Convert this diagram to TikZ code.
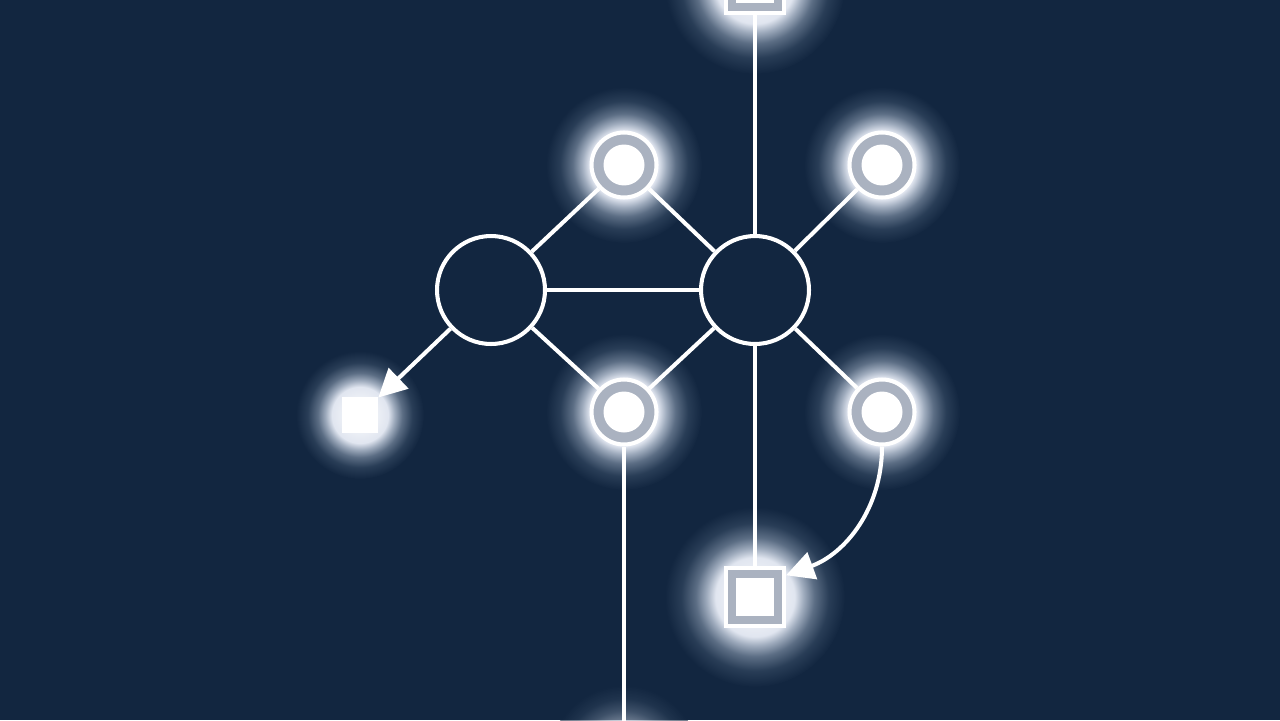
\documentclass[tikz,border=0pt]{standalone}
\usetikzlibrary{arrows.meta,calc}
\definecolor{bg}{RGB}{18,38,64}
\definecolor{ringgrey}{RGB}{170,178,192}
\pgfdeclareradialshading{glowshade}{\pgfpoint{0bp}{0bp}}{rgb(0bp)=(1,1,1); rgb(11bp)=(0.88,0.9,0.94); rgb(13.5bp)=(0.62,0.67,0.74); rgb(16.5bp)=(0.36,0.43,0.52); rgb(20.5bp)=(0.16,0.24,0.34); rgb(25bp)=(0.071,0.149,0.251); rgb(50bp)=(0.071,0.149,0.251)}
\begin{document}
\begin{tikzpicture}[x=0.02cm,y=-0.02cm,
  link/.style={draw=white, line width=2.3pt},
  bigc/.style={circle, draw=white, line width=2.3pt, minimum size=2.16cm, inner sep=0pt},
  smallc/.style={circle, draw=white, line width=2.3pt, fill=ringgrey, minimum size=1.3cm, inner sep=0pt,
    path picture={\fill[white] (path picture bounding box.center) circle (0.41cm);}},
  ringsq/.style={rectangle, draw=white, line width=2.3pt, fill=ringgrey, minimum size=1.16cm, inner sep=0pt,
    path picture={\fill[white] ($(path picture bounding box.center)+(-0.38cm,-0.38cm)$) rectangle ($(path picture bounding box.center)+(0.38cm,0.38cm)$);}},
  solidsq/.style={rectangle, fill=white, minimum size=0.72cm, inner sep=0pt},
  arr/.style={link, -{Triangle[length=0.56cm,width=0.56cm]}},
  glow/.style={shading=glowshade}
]
\useasboundingbox[fill=bg] (0,0) rectangle (1280,720);
\clip (0,0) rectangle (1280,720);

% glows
\shade[glow] (624,165) circle (78);
\shade[glow] (882,165) circle (78);
\shade[glow] (624,412) circle (78);
\shade[glow] (882,412) circle (78);
\shade[glow] (755,597) circle (90);
\shade[glow] (755,-16) circle (90);
\shade[glow] (360,415) circle (64);
\shade[glow, opacity=0.6] (624,760) circle (75);

% nodes
\node[bigc] (L) at (491,290) {};
\node[bigc] (R) at (755,290) {};
\node[smallc] (tl) at (624,165) {};
\node[smallc] (tr) at (882,165) {};
\node[smallc] (bl) at (624,412) {};
\node[smallc] (br) at (882,412) {};
\node[ringsq] (sqtop) at (755,-16) {};
\node[ringsq] (sqbot) at (755,597) {};
\node[solidsq] (sqleft) at (360,415) {};
\coordinate (botend) at (624,740);

% connectors
\draw[link] (L) -- (R);
\draw[link] (L) -- (tl);
\draw[link] (L) -- (bl);
\draw[link] (R) -- (tl);
\draw[link] (R) -- (bl);
\draw[link] (R) -- (tr);
\draw[link] (R) -- (br);
\draw[link] (R) -- (sqtop);
\draw[link] (R) -- (sqbot);
\draw[link] (bl) -- (botend);
\draw[arr] (L) -- (sqleft);
\draw[arr] (br.south) to[out=-90, in=20] (sqbot.35);
\end{tikzpicture}
\end{document}
